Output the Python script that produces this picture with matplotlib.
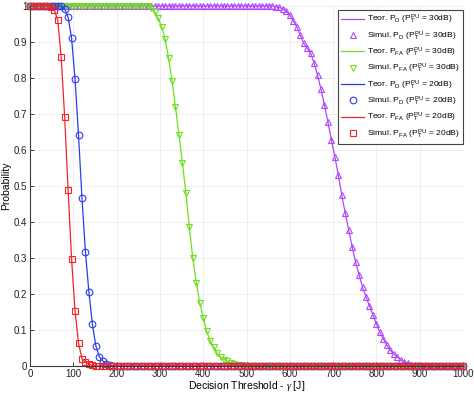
import numpy as np
import matplotlib
matplotlib.use('Agg')
import matplotlib.pyplot as plt

plt.rcParams['font.family'] = ['Liberation Sans', 'DejaVu Sans']
plt.rcParams['mathtext.fontset'] = 'custom'
plt.rcParams['mathtext.rm'] = 'Liberation Sans'
plt.rcParams['mathtext.it'] = 'Liberation Serif:italic'

# decision thresholds (sample grid of the simulation)
x_step = 8
thresholds = np.arange(0, 1000 + x_step, x_step)

pd_30_start = 71
pd_30_drop = [0.998, 0.996, 0.992, 0.985, 0.975, 0.958, 0.942, 0.919, 0.897,
              0.883, 0.869, 0.842, 0.808, 0.769, 0.725, 0.678, 0.628, 0.581,
              0.531, 0.475, 0.425, 0.378, 0.331, 0.289, 0.253, 0.219, 0.192,
              0.167, 0.142, 0.117, 0.094, 0.075, 0.058, 0.044, 0.033, 0.025,
              0.017, 0.011, 0.007, 0.004, 0.002]

pfa_30_start = 34
pfa_30_drop = [0.999, 0.995, 0.984, 0.966, 0.942, 0.908, 0.856, 0.792, 0.719,
               0.642, 0.564, 0.481, 0.386, 0.300, 0.231, 0.175, 0.134, 0.096,
               0.070, 0.053, 0.036, 0.025, 0.018, 0.013, 0.009, 0.006, 0.004,
               0.002]

pd_20_start = 9
pd_20_drop = [0.999, 0.992, 0.969, 0.911, 0.797, 0.642, 0.467, 0.317, 0.206,
              0.117, 0.056, 0.026, 0.014, 0.006, 0.002]

pfa_20_start = 6
pfa_20_drop = [0.998, 0.989, 0.961, 0.858, 0.692, 0.489, 0.297, 0.153, 0.064,
               0.020, 0.011, 0.005, 0.002]


def curve(start, drop):
    vals = [1.0] * start + drop
    return np.array(vals + [0.0] * (len(thresholds) - len(vals)))


series = [
    ('P$_{\\mathrm{D}}$', '30dB', curve(pd_30_start, pd_30_drop), '#b146ff', '^'),
    ('P$_{\\mathrm{FA}}$', '30dB', curve(pfa_30_start, pfa_30_drop), '#6fe020', 'v'),
    ('P$_{\\mathrm{D}}$', '20dB', curve(pd_20_start, pd_20_drop), '#2c3bef', 'o'),
    ('P$_{\\mathrm{FA}}$', '20dB', curve(pfa_20_start, pfa_20_drop), '#f0252a', 's'),
]

fig = plt.figure(figsize=(4.74, 3.94), dpi=100)
ax = fig.add_axes([0.0633, 0.0711, 0.9135, 0.9137])

for name, power, vals, color, marker in series:
    pu = ' (P$_{\\mathrm{T}}^{\\mathrm{PU}}$ = %s)' % power
    ax.plot(thresholds, vals, '-', color=color, lw=0.9, label='Teor. ' + name + pu,
            clip_on=False)
    ax.plot(thresholds, vals, linestyle='none', marker=marker, ms=4.8,
            mfc='none', mec=color, mew=0.8, label='Simul. ' + name + pu,
            clip_on=False)

ax.set_xlim(0, 1000)
ax.set_ylim(0, 1)
ax.set_xticks(np.arange(0, 1001, 100))
ax.set_yticks(np.arange(0, 1.01, 0.1))
ax.set_yticklabels(['0'] + ['%.1f' % v for v in np.arange(0.1, 0.95, 0.1)] + ['1'])
ax.grid(True, color='#ececec', lw=0.6)
ax.set_axisbelow(True)
for s in ['top', 'right']:
    ax.spines[s].set_visible(False)
for s in ['left', 'bottom']:
    ax.spines[s].set_color('#3a3a3a')
    ax.spines[s].set_linewidth(0.8)
ax.tick_params(direction='in', length=3, width=0.6, labelsize=7, colors='#222222', pad=2)

ax.set_xlabel('Decision Threshold - $\\gamma$ [J]', fontsize=7.5, labelpad=0)
ax.set_ylabel('Probability', fontsize=7.5, labelpad=2)

leg = ax.legend(loc='upper right', bbox_to_anchor=(1.0, 0.989), borderaxespad=0,
                fontsize=6.1, handlelength=2.7, handletextpad=0.35,
                labelspacing=0.36, borderpad=0.35, fancybox=False, framealpha=1)
leg.get_frame().set_edgecolor('#444444')
leg.get_frame().set_linewidth(0.8)

plt.savefig('out.png', dpi=100)
